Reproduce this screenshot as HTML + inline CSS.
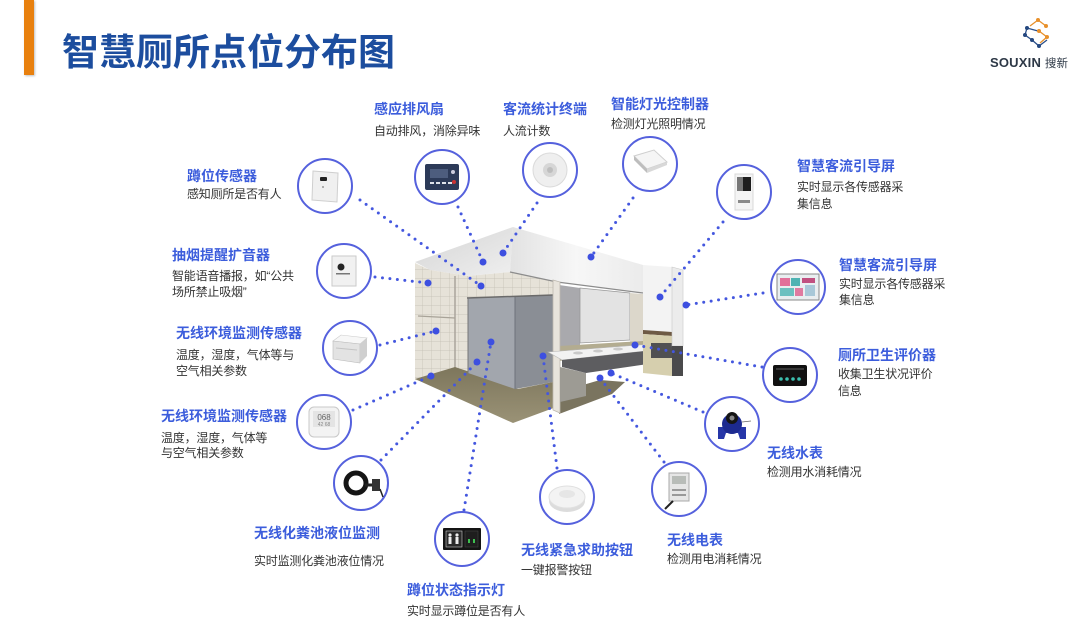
<!DOCTYPE html>
<html><head><meta charset="utf-8">
<style>
html,body{margin:0;padding:0;background:#fff;}
body{width:1080px;height:635px;position:relative;overflow:hidden;font-family:"Liberation Sans","Noto Sans CJK SC",sans-serif;}
.t{position:absolute;white-space:nowrap;font-weight:bold;color:#3c5ddc;font-size:14px;line-height:14px;}
.s{position:absolute;white-space:nowrap;color:#333;font-size:12px;line-height:12px;letter-spacing:-0.2px;}
</style></head>
<body>
<div style="position:absolute;left:24px;top:0;width:10px;height:75px;background:#e8800e;box-shadow:1px 1px 2px rgba(0,0,0,0.25);"></div>
<div style="position:absolute;left:62px;top:34px;font-size:37px;line-height:37px;font-weight:bold;color:#1c4d9e;white-space:nowrap;">智慧厕所点位分布图</div>

<svg width="1080" height="635" style="position:absolute;left:0;top:0">
<defs>
<pattern id="tile" width="9" height="9" patternUnits="userSpaceOnUse"><rect width="9" height="9" fill="#e6e2d8"/><path d="M9 0V9H0" fill="none" stroke="#c2bdb2" stroke-width="0.7"/></pattern>
<linearGradient id="ceil" x1="0" y1="0" x2="1" y2="1"><stop offset="0" stop-color="#d4d4d4"/><stop offset="1" stop-color="#efefef"/></linearGradient>
<linearGradient id="bulk" x1="0" y1="0" x2="1" y2="0"><stop offset="0" stop-color="#e2e2e2"/><stop offset="0.5" stop-color="#f7f7f7"/><stop offset="1" stop-color="#ebebeb"/></linearGradient>
<linearGradient id="floor" x1="0" y1="0" x2="0" y2="1"><stop offset="0" stop-color="#7d765c"/><stop offset="1" stop-color="#9a9276"/></linearGradient>
</defs>

<!-- logo -->
<g stroke-width="1.3" fill="none">
<polyline points="1030,26 1038,20 1046,26" stroke="#e8902a"/>
<polyline points="1039,31 1047,37 1040,43" stroke="#e8902a"/>
<polyline points="1038,31 1027,28 1025,35 1032,40" stroke="#2a4f8a"/>
<polyline points="1032,40 1039,46 1047,40" stroke="#2a4f8a"/>
</g>
<g fill="#e8902a"><circle cx="1038" cy="20" r="2"/><circle cx="1046" cy="26" r="2"/><circle cx="1039" cy="31" r="2"/><circle cx="1047" cy="37" r="2"/></g>
<g fill="#24477f"><circle cx="1027" cy="28" r="2"/><circle cx="1025" cy="35" r="2"/><circle cx="1032" cy="40" r="2"/><circle cx="1039" cy="46" r="2"/></g>

<!-- building -->
<polygon points="415,262 513,227 510,272 468,276 430,270" fill="url(#ceil)"/>
<polygon points="415,263 430,270 468,276 510,272 553,280 553,400 415,380" fill="url(#tile)"/>
<line x1="455" y1="276" x2="455" y2="368" stroke="#aaa59c" stroke-width="1.5"/>
<line x1="418" y1="316" x2="455" y2="318" stroke="#a8a398" stroke-width="1.2"/>
<polygon points="415,379 455,367 470,372 518,389 553,382 559,406 513,423" fill="url(#floor)"/>
<polygon points="559,392 600,380 625,382 612,394 559,414" fill="#7a745f"/>
<polygon points="468,298 515,297 515,389 468,373" fill="#a2a6ad"/>
<polygon points="515,297 553,295 553,382 515,389" fill="#8a8e95"/>
<line x1="515" y1="297" x2="515" y2="389" stroke="#6f737a" stroke-width="1"/>
<line x1="467" y1="298" x2="553" y2="295" stroke="#6a6a6a" stroke-width="1.5"/>
<line x1="468" y1="298" x2="468" y2="374" stroke="#777" stroke-width="1"/>
<polygon points="510,272 513,227 643,265 643,293 557,282" fill="url(#bulk)"/>
<polyline points="510,272 557,282 643,293" fill="none" stroke="#8c8c8c" stroke-width="1.2"/>
<polygon points="559,285 580,288 580,346 559,352" fill="#a9a9ad"/>
<polygon points="580,288 630,293 630,340 580,343" fill="#e3e3e3" stroke="#999" stroke-width="0.8"/>
<polygon points="630,293 643,294 643,346 630,346" fill="#dcd7cb"/>
<polygon points="559,346 643,341 643,352 559,361" fill="#b3ac90"/>
<polygon points="553,280 560,282 560,413 553,410" fill="#e8e4dc" stroke="#bdb8ae" stroke-width="0.8"/>
<polygon points="560,367 586,373 586,396 560,402" fill="#9d9b94"/>
<polygon points="548,352 652,344 655,350 562,360" fill="#f2f2f2" stroke="#b5b5b5" stroke-width="0.6"/>
<polygon points="562,360 655,350 655,363 586,373 562,367" fill="#5d5d60"/>
<g fill="#c9c9c9"><ellipse cx="578" cy="353" rx="5" ry="1.5"/><ellipse cx="598" cy="351" rx="5" ry="1.5"/><ellipse cx="618" cy="349" rx="5" ry="1.5"/></g>
<polygon points="643,265 672,267 672,333 643,332" fill="#f3f3f3"/>
<polygon points="643,330 672,332 672,336 643,334" fill="#6e5a44"/>
<polygon points="643,334 672,336 672,376 643,373" fill="#d6cfae"/>
<rect x="651" y="343" width="21" height="15" fill="#505052"/>
<polygon points="672,267 683,270 683,346 672,346" fill="#ececec" stroke="#c8c8c8" stroke-width="0.6"/>
<polygon points="672,346 683,346 683,376 672,376" fill="#4a4a4c"/>

<!-- dotted connectors -->
<g stroke="#4457df" stroke-width="3" stroke-linecap="round" stroke-dasharray="0 7.5" fill="none">
<line x1="360" y1="200" x2="481" y2="286"/>
<line x1="458" y1="207" x2="483" y2="262"/>
<line x1="537" y1="203" x2="503" y2="253"/>
<line x1="633" y1="198" x2="591" y2="257"/>
<line x1="723" y1="222" x2="660" y2="297"/>
<line x1="763" y1="293" x2="686" y2="305"/>
<line x1="762" y1="367" x2="635" y2="345"/>
<line x1="703" y1="412" x2="611" y2="373"/>
<line x1="664" y1="462" x2="600" y2="378"/>
<line x1="557" y1="468" x2="543" y2="356"/>
<line x1="464" y1="510" x2="491" y2="342"/>
<line x1="381" y1="460" x2="477" y2="362"/>
<line x1="353" y1="410" x2="431" y2="376"/>
<line x1="380" y1="345" x2="436" y2="331"/>
<line x1="375" y1="277" x2="428" y2="283"/>
</g>
<g fill="#3d4fe0">
<circle cx="481" cy="286" r="3.5"/><circle cx="483" cy="262" r="3.5"/><circle cx="503" cy="253" r="3.5"/>
<circle cx="591" cy="257" r="3.5"/><circle cx="660" cy="297" r="3.5"/><circle cx="686" cy="305" r="3.5"/>
<circle cx="635" cy="345" r="3.5"/><circle cx="611" cy="373" r="3.5"/><circle cx="600" cy="378" r="3.5"/>
<circle cx="543" cy="356" r="3.5"/><circle cx="491" cy="342" r="3.5"/><circle cx="477" cy="362" r="3.5"/>
<circle cx="431" cy="376" r="3.5"/><circle cx="436" cy="331" r="3.5"/><circle cx="428" cy="283" r="3.5"/>
</g>

<!-- circles -->
<g fill="#fff" stroke="#5561dd" stroke-width="2">
<circle cx="325" cy="186" r="27"/><circle cx="442" cy="177" r="27"/><circle cx="550" cy="170" r="27"/>
<circle cx="650" cy="164" r="27"/><circle cx="744" cy="192" r="27"/><circle cx="798" cy="287" r="27"/>
<circle cx="790" cy="375" r="27"/><circle cx="732" cy="424" r="27"/><circle cx="679" cy="489" r="27"/>
<circle cx="567" cy="497" r="27"/><circle cx="462" cy="539" r="27"/><circle cx="361" cy="483" r="27"/>
<circle cx="324" cy="422" r="27"/><circle cx="350" cy="348" r="27"/><circle cx="344" cy="271" r="27"/>
</g>

<!-- icons -->
<g transform="translate(325,186)">
<polygon points="-12,-15 13,-13 12,16 -13,14" fill="#f0f0f0" stroke="#cfcfcf"/>
<rect x="-5" y="-9" width="7" height="4" rx="1" fill="#222"/><circle cx="-2" cy="1" r="1" fill="#999"/>
</g>
<g transform="translate(442,177)">
<rect x="-17" y="-13" width="34" height="26" rx="2" fill="#2c3a58"/>
<rect x="-12" y="-8" width="18" height="9" fill="#4d5d7e"/>
<g fill="#dfe3ea"><rect x="-12" y="5" width="4" height="2"/><rect x="-6" y="5" width="4" height="2"/><rect x="0" y="5" width="4" height="2"/><rect x="6" y="5" width="4" height="2"/></g>
<circle cx="11" cy="-5" r="2" fill="#ccd"/><circle cx="12" cy="5" r="2" fill="#c33"/>
</g>
<g transform="translate(550,170)">
<circle r="17" fill="#efefef" stroke="#dadada"/><circle r="7" fill="#d6d6d6"/><circle r="3" fill="#bdbdbd"/>
</g>
<g transform="translate(650,164)">
<polygon points="-16,-8 4,-14 17,-2 -3,5" fill="#f5f5f5" stroke="#cfcfcf"/>
<polygon points="-16,-8 -3,5 -3,9 -16,-4" fill="#bdbdbd"/>
<polygon points="-3,5 17,-2 17,1 -3,9" fill="#d8d8d8"/>
</g>
<g transform="translate(744,192)">
<rect x="-9" y="-18" width="18" height="36" fill="#f4f4f4" stroke="#d8d8d8"/>
<rect x="-7" y="-15" width="14" height="14" fill="#1e1e1e"/><rect x="-7" y="-15" width="6" height="14" fill="#777"/>
<rect x="-6" y="8" width="12" height="3" fill="#8a8a8a"/>
</g>
<g transform="translate(798,287)">
<rect x="-21" y="-13" width="42" height="26" fill="#e9eef0" stroke="#888"/>
<rect x="-18" y="-9" width="10" height="8" fill="#e2709a"/><rect x="-7" y="-9" width="9" height="8" fill="#4fb3b3"/>
<rect x="4" y="-9" width="13" height="5" fill="#c05080"/><rect x="-18" y="1" width="14" height="8" fill="#6cc0c0"/>
<rect x="-3" y="1" width="8" height="8" fill="#e07aa0"/><rect x="7" y="-2" width="10" height="11" fill="#a8c8d8"/>
</g>
<g transform="translate(790,375)">
<rect x="-17" y="-10" width="34" height="21" rx="2" fill="#111"/>
<line x1="-14" y1="-6" x2="14" y2="-6" stroke="#777" stroke-width="0.8"/>
<g fill="#3cc0b0"><circle cx="-9" cy="4" r="1.8"/><circle cx="-3" cy="4" r="1.8"/><circle cx="3" cy="4" r="1.8"/><circle cx="9" cy="4" r="1.8"/></g>
</g>
<g transform="translate(732,424)">
<path d="M-14,3 L14,3 L14,15 L8,15 L6,9 L-6,9 L-8,15 L-14,15 Z" fill="#2636a8"/>
<circle cx="0" cy="0" r="10" fill="#1c2a90"/><circle cx="0" cy="-6" r="6" fill="#151515"/><circle cx="0" cy="-6" r="2.5" fill="#888"/>
<line x1="10" y1="-2" x2="19" y2="-3" stroke="#666" stroke-width="0.8"/>
</g>
<g transform="translate(679,489)">
<rect x="-10" y="-16" width="20" height="28" fill="#e6e6e6" stroke="#a8a8a8"/>
<rect x="-7" y="-13" width="14" height="8" fill="#b8bcb8"/>
<g fill="#999"><rect x="-7" y="0" width="14" height="2"/><rect x="-7" y="5" width="14" height="2"/></g>
<line x1="-6" y1="12" x2="-14" y2="20" stroke="#222" stroke-width="2"/>
</g>
<g transform="translate(567,497)">
<ellipse cx="0" cy="4" rx="18" ry="11" fill="#dcdcdc"/>
<ellipse cx="0" cy="0" rx="18" ry="11" fill="#f3f3f3" stroke="#e0e0e0"/>
<ellipse cx="0" cy="-3" rx="8" ry="4" fill="#e6e6e6"/>
</g>
<g transform="translate(462,539)">
<rect x="-19" y="-11" width="38" height="22" rx="1" fill="#141414"/>
<rect x="-16" y="-8" width="16" height="16" fill="#2a2a2a" stroke="#ccc" stroke-width="0.6"/>
<g fill="#eee"><circle cx="-12" cy="-4" r="1.6"/><rect x="-13.5" y="-2" width="3" height="7"/><circle cx="-5" cy="-4" r="1.6"/><rect x="-6.5" y="-2" width="3" height="7"/></g>
<rect x="3" y="-8" width="13" height="16" fill="#1e1e1e" stroke="#444" stroke-width="0.6"/>
<g fill="#3fc050"><rect x="6" y="0" width="2" height="4"/><rect x="11" y="0" width="2" height="4"/></g>
</g>
<g transform="translate(361,483)">
<circle cx="-5" cy="0" r="10" fill="none" stroke="#151515" stroke-width="5"/>
<path d="M4,2 L14,2" stroke="#222" stroke-width="3"/>
<rect x="11" y="-4" width="8" height="12" fill="#333"/>
<line x1="19" y1="6" x2="22" y2="14" stroke="#222" stroke-width="1.5"/>
</g>
<g transform="translate(324,422)">
<rect x="-15" y="-15" width="30" height="30" rx="5" fill="#f3f3f3" stroke="#c8c8c8"/>
<rect x="-11" y="-11" width="22" height="16" fill="#e4e4e4"/>
<text x="0" y="-2" font-size="8" text-anchor="middle" fill="#666" font-family="Liberation Sans,sans-serif">068</text>
<text x="0" y="4" font-size="5" text-anchor="middle" fill="#888" font-family="Liberation Sans,sans-serif">42 68</text>
</g>
<g transform="translate(350,348)">
<polygon points="-17,-7 -9,-13 17,-10 10,-4" fill="#f7f7f7" stroke="#ccc" stroke-width="0.6"/>
<polygon points="-17,-7 10,-4 10,15 -17,11" fill="#e3e3e3" stroke="#bbb" stroke-width="0.6"/>
<polygon points="10,-4 17,-10 17,8 10,15" fill="#cfcfcf"/>
<line x1="-14" y1="0" x2="7" y2="2" stroke="#c4c4c4"/>
</g>
<g transform="translate(344,271)">
<rect x="-12" y="-15" width="24" height="30" fill="#f1f1f1" stroke="#cacaca"/>
<circle cx="-3" cy="-4" r="3.5" fill="#252525"/>
<rect x="-8" y="2" width="14" height="1.5" fill="#777"/>
</g>
</svg>

<!-- labels -->
<div class="t" style="left:187px;top:169px;">蹲位传感器</div>
<div class="s" style="left:187px;top:188px;">感知厕所是否有人</div>

<div class="t" style="left:374px;top:102px;">感应排风扇</div>
<div class="s" style="left:374px;top:125px;">自动排风，消除异味</div>

<div class="t" style="left:503px;top:102px;">客流统计终端</div>
<div class="s" style="left:503px;top:125px;">人流计数</div>

<div class="t" style="left:611px;top:97px;">智能灯光控制器</div>
<div class="s" style="left:611px;top:118px;">检测灯光照明情况</div>

<div class="t" style="left:797px;top:159px;">智慧客流引导屏</div>
<div class="s" style="left:797px;top:181px;">实时显示各传感器采</div>
<div class="s" style="left:797px;top:198px;">集信息</div>

<div class="t" style="left:172px;top:248px;">抽烟提醒扩音器</div>
<div class="s" style="left:172px;top:270px;">智能语音播报，如“公共</div>
<div class="s" style="left:172px;top:286px;">场所禁止吸烟”</div>

<div class="t" style="left:176px;top:326px;">无线环境监测传感器</div>
<div class="s" style="left:176px;top:349px;">温度，湿度，气体等与</div>
<div class="s" style="left:176px;top:365px;">空气相关参数</div>

<div class="t" style="left:161px;top:409px;">无线环境监测传感器</div>
<div class="s" style="left:161px;top:432px;">温度，湿度，气体等</div>
<div class="s" style="left:161px;top:447px;">与空气相关参数</div>

<div class="t" style="left:254px;top:526px;">无线化粪池液位监测</div>
<div class="s" style="left:254px;top:555px;">实时监测化粪池液位情况</div>

<div class="t" style="left:407px;top:583px;">蹲位状态指示灯</div>
<div class="s" style="left:407px;top:605px;">实时显示蹲位是否有人</div>

<div class="t" style="left:521px;top:543px;">无线紧急求助按钮</div>
<div class="s" style="left:521px;top:564px;">一键报警按钮</div>

<div class="t" style="left:667px;top:533px;">无线电表</div>
<div class="s" style="left:667px;top:553px;">检测用电消耗情况</div>

<div class="t" style="left:767px;top:446px;">无线水表</div>
<div class="s" style="left:767px;top:466px;">检测用水消耗情况</div>

<div class="t" style="left:838px;top:348px;">厕所卫生评价器</div>
<div class="s" style="left:838px;top:368px;">收集卫生状况评价</div>
<div class="s" style="left:838px;top:385px;">信息</div>

<div class="t" style="left:839px;top:258px;">智慧客流引导屏</div>
<div class="s" style="left:839px;top:278px;">实时显示各传感器采</div>
<div class="s" style="left:839px;top:294px;">集信息</div>

<div style="position:absolute;left:990px;top:56px;font-size:13px;line-height:13px;font-weight:bold;color:#2d3846;white-space:nowrap;letter-spacing:0.2px;">SOUXIN <span style="font-size:11.5px;font-weight:normal;">搜新</span></div>
</body></html>
